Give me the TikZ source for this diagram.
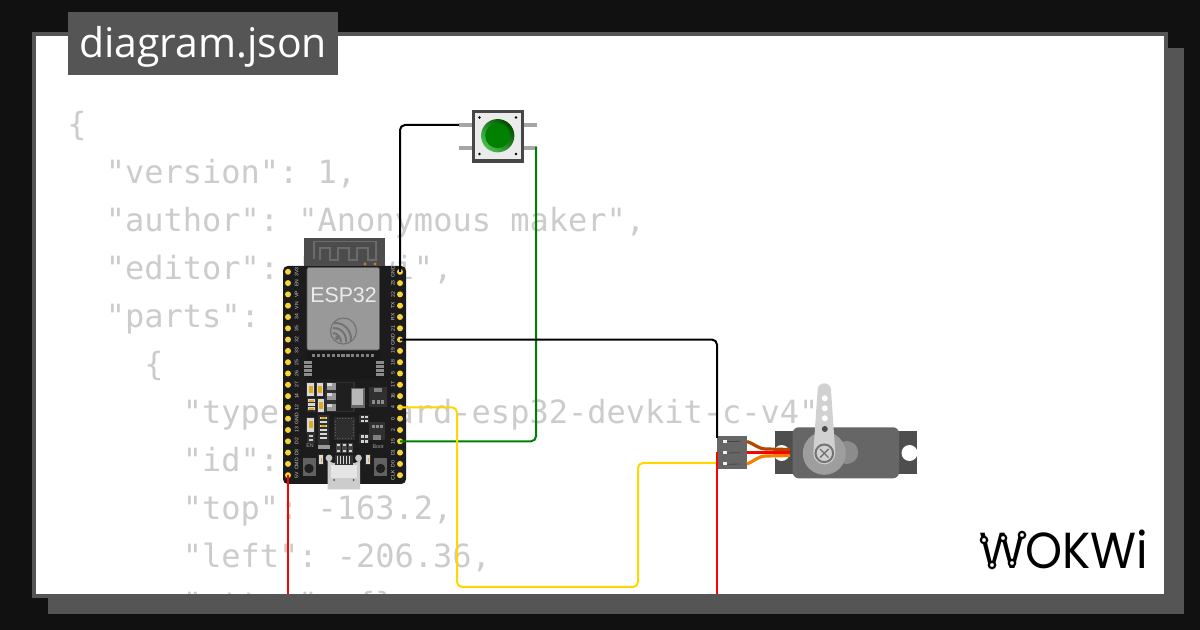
\documentclass[tikz,border=0pt]{standalone}
\usepackage{fontspec}
\setmainfont{Liberation Sans}
\newfontfamily\codefont{DejaVu Sans Mono}
\newfontfamily\titlefont{Open Sans}
\newfontfamily\logofont{Poppins}
\newcommand{\pxfont}[1]{\fontsize{#1}{#1}\selectfont}
\definecolor{bgdark}{HTML}{111111}
\definecolor{frameg}{HTML}{555555}
\definecolor{codeg}{HTML}{CCCCCC}
\definecolor{boardk}{HTML}{1C1C1C}
\definecolor{pinY}{HTML}{F5D33A}
\definecolor{smd}{HTML}{303030}
\definecolor{servoB}{HTML}{666666}
\definecolor{servoP}{HTML}{4E4E4E}
\definecolor{greenwire}{HTML}{008000}
\definecolor{goldwire}{HTML}{FFD700}
\definecolor{brownwire}{HTML}{B04800}
\definecolor{orangewire}{HTML}{F58000}
\definecolor{capgold}{HTML}{DDAA20}
\frenchspacing
\tikzset{
  x=.75pt,y=-.75pt,
  codeline/.style={anchor=base west,inner sep=0,text=codeg,font=\codefont\frenchspacing\pxfont{24}},
  wire/.style={line width=1.5pt,rounded corners=3.75pt},
  pinlab/.style={inner sep=0,text=black!18,font=\pxfont{3.8},rotate=90},
  tinylab/.style={inner sep=0,text=black!35,font=\pxfont{4}},
  pad/.style={fill=pinY,draw=none},
  servowire/.style={line width=2.4pt},
  logodot/.style={draw=black,line width=1.6pt,fill=white},
}
% resistor-like part: x y w h
\newcommand{\smdpart}[4]{%
  \fill[smd] (#1-1,#2-1) rectangle ++(#3+2,#4+2);
  \fill[black!15] (#1,#2) rectangle ++(#3,#4);
  \fill[capgold] (#1+1.5,#2+#4*.25) rectangle ++(#3-3,#4*.5);
}
\begin{document}
\begin{tikzpicture}
\useasboundingbox (0,0) rectangle (1200,630);
\fill[bgdark] (0,0) rectangle (1200,630);
\fill[frameg] (48,48) rectangle (1184,614);
\fill[white] (32,32) rectangle (1168,598);
% code text
\begin{scope}
\clip (36,36) rectangle (1164,594);
\node[codeline] (c0) at (67,136) {\{};
\node[codeline] (c1) at (105.5,184) {"version": 1,};
\node[codeline] (c2) at (105.5,232) {"author": "Anonymous maker",};
\node[codeline] (c3) at (105.5,280) {"editor": "wokwi",};
\node[codeline] (c4) at (105.5,328) {"parts": [};
\node[codeline] (c5) at (144,376) {\{};
\node[codeline] (c6) at (182.5,424) {"type": "board-esp32-devkit-c-v4",};
\node[codeline] (c7) at (182.5,472) {"id": "esp",};
\node[codeline] (c8) at (182.5,520) {"top": -163.2,};
\node[codeline] (c9) at (182.5,568) {"left": -206.36,};
\node[codeline] (c10) at (182.5,616) {"attrs": \{\}};
\end{scope}

% ESP32 board
\fill[boardk,rounded corners=3.5pt] (283,266) rectangle (406,484);
\fill[black!70] (304,238) rectangle (384.5,266);
\draw[black!58,line width=1pt] (314,259) -- (314,241.7) -- (376,241.7) -- (376,260) -- (368,260) -- (368,248) -- (357,248) -- (357,260) -- (349,260) -- (349,248) -- (338,248) -- (338,260) -- (330,260) -- (330,248) -- (320,248) -- (320,260);
\fill[capgold!80!black] (365,264) circle (1.7) (375,264) circle (1.7);
\fill[black!40,draw=black!65,line width=.4pt,rounded corners=1.5pt] (307,267.5) rectangle (379.5,350);
\fill[black!90] (306,351) rectangle (381,379);
\foreach \i in {0,...,12} \fill[black!50] (312+\i*4.9,354) rectangle ++(3.2,3);
\foreach \yy in {364,368,372,376} {\fill[black!45] (304,\yy-3) rectangle ++(8,3); \fill[black!45] (376,\yy-3) rectangle ++(8,3);}
\node[inner sep=0,text=black!8,font=\pxfont{16}] (esplabel) at (343.5,295) {ESP32};
% espressif mark
\draw[black!55,line width=.9pt] (343.5,331) circle (13);
\draw[black!55,line width=1.5pt] (334,323) .. controls (344,322) and (352,331) .. (351,341);
\draw[black!55,line width=1.5pt] (333,328) .. controls (340,327) and (347,334) .. (346,342);
\draw[black!55,line width=1.5pt] (333,333) .. controls (337,333) and (341,337) .. (341,342);
\fill[black!55] (337,338) circle (2);
% pins
\foreach \i/\lab in {0/3V3,1/EN,2/VP,3/VN,4/34,5/35,6/32,7/33,8/25,9/26,10/27,11/14,12/12,13/GND,14/13,15/D2,16/D3,17/CMD,18/5V} {
  \fill[pad] (288,271.8+\i*11.3) circle (3);
  \coordinate (l\i) at (288,271.8+\i*11.3);
  \node[pinlab] (ll\i) at (296.7,271.8+\i*11.3) {\lab};
}
\foreach \i/\lab in {0/GND,1/23,2/22,3/TX,4/RX,5/21,6/GND,7/19,8/18,9/5,10/17,11/16,12/4,13/0,14/2,15/15,16/D1,17/D0,18/CLK} {
  \fill[pad] (400,271.8+\i*11.3) circle (3);
  \coordinate (r\i) at (400,271.8+\i*11.3);
  \node[pinlab] (rl\i) at (393,271.8+\i*11.3) {\lab};
}
% regulator
\fill[smd] (325,381.7) rectangle (355,412.3);
\fill[black!40] (326.7,383.3) rectangle (335.7,390);
\fill[black!40] (326.7,393.3) rectangle (335.7,400);
\fill[black!40] (326.7,404.3) rectangle (335.7,411);
\fill[black!15] (326.7,383.3) rectangle (332,386);
\fill[black!15] (326.7,393.3) rectangle (332,396);
\fill[black!15] (326.7,404.3) rectangle (332,407);
\fill[black!88] (336,383) rectangle (353,411);
\fill[black!60] (351,387.7) rectangle (365,407.7);
\fill[black!28] (351.5,389) rectangle (362.5,405.5);
% SMDs
\smdpart{307.3}{383.3}{7}{12.7}
\smdpart{316.7}{383.3}{6.7}{12.7}
\smdpart{317.7}{399.3}{6.4}{12.4}
\smdpart{307.3}{417.7}{7}{14}
\smdpart{319}{455.5}{4}{9}
\smdpart{366}{455.5}{4}{9}
\fill[smd] (306.5,398) rectangle (316,412);
\fill[black!15] (308,399.5) rectangle ++(7,3); \fill[black!15] (308,403.5) rectangle ++(7,3); \fill[black!15] (308,407.5) rectangle ++(7,3);
\fill[capgold] (309,400) rectangle ++(5,2);
\fill[capgold] (309,408) rectangle ++(5,2);
\fill[smd] (307,433.5) rectangle (315,443);
\fill[black!20] (309,435.5) rectangle ++(4,2); \fill[black!20] (309,439.5) rectangle ++(4,2);
% IC column
\fill[smd] (318,415) rectangle (329,445);
\foreach \yy in {417,421,425,429,433,437} {\fill[black!15] (320,\yy) rectangle ++(7,2);}
\fill[capgold] (321,417) rectangle ++(5,2);
\fill[capgold] (321,425) rectangle ++(5,2);
\fill[black!40] (318,445) rectangle (330,449);
% main IC
\fill[black!82] (333.5,417.5) rectangle (355,440);
\foreach \i in {0,...,5} {\fill[black!62] (336.5+\i*2.8,418.5) rectangle ++(1,1); \fill[black!62] (336.5+\i*2.8,438) rectangle ++(1,1); \fill[black!62] (334.5,421+\i*2.8) rectangle ++(1,1); \fill[black!62] (353,421+\i*2.8) rectangle ++(1,1);}
% small trio
\foreach \xx in {336,342,348} {\fill[black!72] (\xx,443.5) rectangle ++(4.6,10); \fill[black!18] (\xx+1,444.5) rectangle ++(2.6,2); \fill[black!18] (\xx+1,450.5) rectangle ++(2.6,2);}
% right components
\fill[smd] (369.3,386.7) rectangle (387,406.7);
\fill[black!50] (374,388) rectangle (381.5,392.5); \foreach \xx in {372,376.5,381} \fill[black!45] (\xx,400) rectangle ++(3,4);
\fill[smd] (359,415) rectangle (369,423);
\fill[black!18] (361,416) rectangle ++(2.5,2.5); \fill[black!18] (365,416) rectangle ++(2.5,2.5); \fill[black!18] (361,420) rectangle ++(2.5,2.5); \fill[black!18] (365,420) rectangle ++(2.5,2.5);
\fill[smd] (369,422.5) rectangle (385,440);
\fill[black!50] (373,435) rectangle (381,440); \foreach \xx in {372,376,380} \fill[black!45] (\xx,425) rectangle ++(2.5,3.5);
\fill[smd] (359,434) rectangle (369,443.5);
\fill[black!18] (361,435) rectangle ++(2.5,3); \fill[black!18] (365,435) rectangle ++(2.5,3); \fill[black!18] (361,440) rectangle ++(2.5,3); \fill[black!18] (365,440) rectangle ++(2.5,3);
\node[tinylab] (enlab) at (310,446) {EN};
\node[tinylab] (bootlab) at (378,447) {Boot};
% buttons
\fill[black!62] (302.7,458.5) rectangle (315.7,476.5);
\fill[black!88] (309,468.5) circle (4.7);
\fill[black!62] (374,458.5) rectangle (386.5,476.5);
\fill[black!88] (380.5,468.5) circle (4.7);
% USB
\fill[black!20] (327.5,460) -- (333,463) -- (355,463) -- (360,460) -- (360,489.5) -- (327.5,489.5) -- cycle;
\fill[black!10] (331,465) rectangle (357,478);
\fill[black!22] (329,458) circle (3.4) (358.5,458) circle (3.4);
\fill[black!80] (335,455) rectangle (353,465);
\foreach \i in {0,...,4} \fill[black!15] (337+\i*3,456) rectangle ++(1.1,8);
\fill[black!70] (334,480) circle (1) (353.5,480) circle (1);
% Button
\fill[black!35] (458.5,123) rectangle (472,127);
\fill[black!35] (458.5,145.7) rectangle (472,149.7);
\fill[black!35] (524,123) rectangle (536.7,127);
\fill[black!35] (524,145.7) rectangle (536.7,149.7);
\fill[black!72] (471.7,110) rectangle (524,162.7);
\fill[black!8] (475.2,113.5) rectangle (520.5,159.2);
\foreach \xx/\yy in {479.5/117.5,516/117.5,479.5/154,516/154} \fill[black] (\xx,\yy) circle (1.4);
\node[circle,minimum size=25pt,inner sep=0,draw=none,shading=axis,left color=green!30!black,right color=green!60!white!75!black,shading angle=-45] (btn) at (497.7,135.7) {};
\fill[greenwire] (497.7,135.7) circle (12.5);
\coordinate (btnL) at (459,125);
\coordinate (btnR) at (536,147);
% Servo
\fill[servoP] (774.7,431) rectangle (917,474.3);
\fill[white] (781.7,453) circle (8) (909.5,453) circle (8);
\fill[servoB,rounded corners=4.5pt] (792.7,427.3) rectangle (899,478.3);
\fill[black!45] (846.7,452.5) circle (11.5);
\fill[black!38] (824.3,453.3) circle (21.5);
\fill[black!18] (817.6,390) arc[start angle=180,end angle=360,radius=6.7] -- (835.3,453.3) arc[start angle=0,end angle=180,radius=11] -- cycle;
\fill[white] (824.8,398.3) circle (3) (824.8,408.3) circle (3) (824.8,418.3) circle (3);
\fill[black!70] (824.8,429) circle (3);
\draw[black!55,line width=1.5pt,fill=black!18] (824.3,453.3) circle (8.8);
\draw[black!55,line width=1pt] (820,449) -- (828.6,457.6) (820,457.6) -- (828.6,449);
% Servo connector
\node[inner sep=0,minimum width=22.5pt,minimum height=24.7pt,fill=black!60,draw=none] (conn) at (732.3,452.7) {};
\foreach \yy in {441.3,452.7,464} {\fill[black!72] (722,\yy) -- (740,\yy-.4) -- (740,\yy+.4) -- (722,\yy+.8) -- cycle; \fill[black!5] (723,\yy-1.5) rectangle ++(3.5,3);}
\draw[servowire,draw=brownwire] (747,441.5) .. controls (753,443) and (758,449) .. (766,449) -- (790,449.5);
\draw[servowire,draw=orangewire] (747,464) .. controls (753,462) and (758,456) .. (766,456) -- (790,455.5);
\draw[servowire,draw=red] (747,452.7) -- (790,452.7);
\coordinate (sGnd) at (717,438);
\coordinate (sPwr) at (717,452);
\coordinate (sSig) at (717,463);
% Wires
\coordinate (y1) at (457,587);
\coordinate (y2) at (638,463);
\coordinate (redA) at (288,596);
\coordinate (redB) at (717,596);
\draw[wire,black] (r0) |- (btnL);
\draw[wire,greenwire] (btnR) |- (r15);
\draw[wire,black] (r6) -| (sGnd);
\draw[wire,goldwire] (r12) -| (y1) -| (y2) -- (sSig);
\draw[wire,red] (l18) -- (redA);
\draw[wire,red] (sPwr) -- (redB);
% frame on top
\draw[frameg,line width=3pt] (34,34) rectangle (1166,596);
\node[inner sep=0,minimum width=202.5pt,minimum height=47.25pt,fill=frameg,anchor=north west] (tab) at (68,12) {};
\node[inner sep=0,text=white,font=\titlefont\pxfont{30.7},anchor=base] (title) at (203,57.5) {diagram.json};
% logo
\node[inner sep=0,anchor=base west,font=\logofont\pxfont{38}] (logo) at (979,569) {\scalebox{.93}[1]{WOKWi}};
\foreach \xx/\yy in {984/540,1003/538,1022/535,992/565,1012/563} \draw[logodot] (\xx,\yy) circle (3.2);
\end{tikzpicture}
\end{document}
